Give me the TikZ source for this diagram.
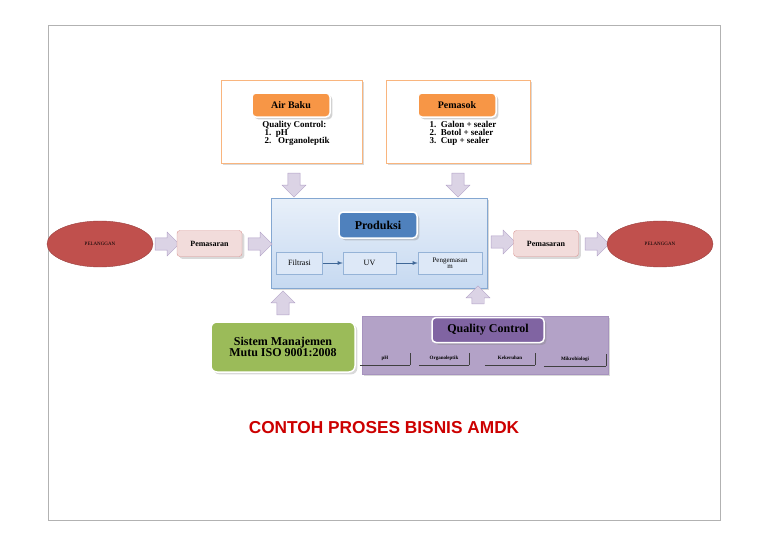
\documentclass[tikz,border=0pt]{standalone}
\usepackage{fontspec}
\setmainfont{Liberation Serif}
\newfontfamily\headfont{Liberation Sans}
\usetikzlibrary{shapes.arrows,shapes.geometric,shadows}
\definecolor{orangeT}{HTML}{F79646}
\definecolor{blueP}{HTML}{4F81BD}
\definecolor{lightB}{HTML}{C6D9F1}
\definecolor{redE}{HTML}{C0504D}
\definecolor{pinkB}{HTML}{F2DCDB}
\definecolor{lilac}{HTML}{CCC0DA}
\definecolor{purpleB}{HTML}{B3A2C7}
\definecolor{purpleD}{HTML}{8064A2}
\definecolor{greenB}{HTML}{9BBB59}
\tikzset{
  panel/.style={draw=orangeT!70, fill=white, line width=0.8pt, drop shadow={opacity=0.3}},
  tag/.style={rounded corners=4pt, draw=white, line width=1.5pt, font=\bfseries\normalsize, inner sep=0pt, drop shadow={opacity=0.35}},
  proc/.style={draw=blueP!60, fill=lightB!60, minimum width=46pt, minimum height=22pt, font=\footnotesize, align=center, inner sep=1pt},
  flow/.style={single arrow, draw=purpleB, fill=lilac!70, minimum height=24pt, minimum width=24pt, single arrow head extend=3pt, inner sep=3pt},
  cust/.style={ellipse, fill=redE, draw=redE!80!black, minimum width=106pt, minimum height=46pt, font=\tiny},
  sales/.style={rounded corners=3pt, fill=pinkB, draw=redE!60, minimum width=65pt, minimum height=26pt, font=\footnotesize\bfseries, drop shadow={opacity=0.3}},
  sub/.style={font=\tiny\bfseries, minimum width=50pt, minimum height=14pt}
}
\begin{document}
\begin{tikzpicture}[x=1pt,y=-1pt]
\useasboundingbox (0,0) rectangle (768,543);
\draw[gray!60] (48,25) rectangle (720,520);

% bahan baku dan pemasok
\draw[panel] (221,80) rectangle (362,163);
\node[tag, fill=orangeT, minimum width=78pt, minimum height=24pt] (airbaku) at (291,105) {Air Baku};
\node[font=\small\bfseries, align=left, anchor=north, inner sep=0pt] (qcair) at (296,121) {Quality Control:\\[-3pt]\ 1.\ \ pH\\[-3pt]\ 2.\ \ \ Organoleptik};
\draw[panel] (386,80) rectangle (530,163);
\node[tag, fill=orangeT, minimum width=78pt, minimum height=24pt] (pemasok) at (457,105) {Pemasok};
\node[font=\small\bfseries, align=left, anchor=north, inner sep=0pt] (listpem) at (463,121) {1.\ \ Galon + sealer\\[-3pt]2.\ \ Botol + sealer\\[-3pt]3.\ \ Cup + sealer};

% produksi
\draw[draw=blueP!70, top color=lightB!40, bottom color=lightB, line width=0.8pt, drop shadow={opacity=0.3}] (271,198) rectangle (487,288);
\node[tag, fill=blueP, text=black, minimum width=78pt, minimum height=26pt, font=\bfseries\large] (produksi) at (378,225) {Produksi};
\node[proc] (filtrasi) at (299.5,263) {Filtrasi};
\node[proc, minimum width=53pt] (uv) at (369.5,263) {UV};
\node[proc, minimum width=64pt, font=\scriptsize] (kemas) at (450,263) {Pengemasan\\[-2pt]m};
\draw[-latex, blueP!80!black, thick] (filtrasi) -- (uv);
\draw[-latex, blueP!80!black, thick] (uv) -- (kemas);

% arus masuk atas
\node[flow, rotate=-90] (in1) at (294,182) {};
\node[flow, rotate=-90] (in2) at (458,182) {};

% pelanggan kiri
\node[cust] (plg1) at (100,244) {PELANGGAN};
\node[flow] (a1) at (164,244) {};
\node[sales] (psr1) at (209.5,243.5) {Pemasaran};
\node[flow] (a2) at (257,244) {};

% pelanggan kanan
\node[flow] (a3) at (500,242) {};
\node[sales] (psr2) at (546,243.5) {Pemasaran};
\node[flow] (a4) at (594,244) {};
\node[cust] (plg2) at (660,244) {PELANGGAN};

% arus masuk bawah
\node[flow, rotate=90] (up1) at (283,306) {};
\node[flow, rotate=90, minimum height=18pt] (up2) at (478,298) {};

% sistem manajemen
\node[rounded corners=6pt, fill=greenB, draw=white, line width=1.5pt, minimum width=144pt, minimum height=50pt, align=center, font=\large\bfseries, drop shadow={opacity=0.3}] (iso) at (283,347) {Sistem Manajemen\\[-3pt]Mutu ISO 9001:2008};

% quality control
\draw[fill=purpleB, draw=purpleD!70, drop shadow={opacity=0.3}] (362,316) rectangle (608,374);
\node[tag, fill=purpleD, minimum width=112pt, minimum height=25pt, font=\bfseries\large] (qc) at (488,330) {Quality Control};
\node[sub] (ph) at (385,358) {pH};
\node[sub] (organo) at (444,358) {Organoleptik};
\node[sub] (keruh) at (510,358) {Kekeruhan};
\node[sub, minimum width=62pt] (mikro) at (575,359) {Mikrobiologi};
\foreach \n in {ph,organo,keruh,mikro}{
  \draw[gray!50!black] (\n.south west) -- (\n.south east);
  \draw[gray!50!black] (\n.south east) -- ++(0,-12);
}

% judul
\node[font=\headfont\bfseries\LARGE, text=red!80!black] (judul) at (384,428) {CONTOH PROSES BISNIS AMDK};
\end{tikzpicture}
\end{document}
